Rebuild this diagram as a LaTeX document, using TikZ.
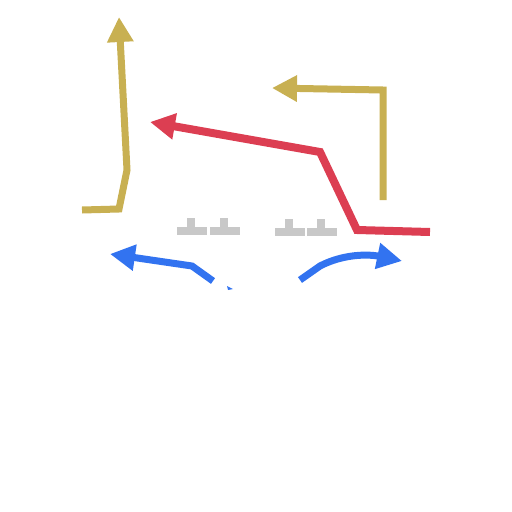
\documentclass[tikz,border=0pt]{standalone}
\usetikzlibrary{arrows.meta}

\definecolor{laneGold}{RGB}{200,176,82}
\definecolor{laneRed}{RGB}{220,62,82}
\definecolor{laneBlue}{RGB}{50,115,240}
\definecolor{carGray}{RGB}{200,200,200}

\begin{document}
\begin{tikzpicture}[x=1pt,y=-1pt]
  \tikzset{route/.style={line width=7pt,-{Triangle[length=25pt,width=25pt]}},
    car/.style={fill=carGray,draw=none}}
  \useasboundingbox (0,0) rectangle (512,512);
  % parked cars
  \foreach \cx/\cy in {177/227,210/227,275/228,307/228}{
    \fill[car] (\cx,\cy) rectangle ++(30,8);
    \fill[car] (\cx+10,\cy) rectangle ++(8,-9);
  }
  % gold routes
  \coordinate (gA) at (82,210);
  \coordinate (gB) at (119,209);
  \coordinate (gC) at (127,170);
  \coordinate (gD) at (119,17);
  \draw[route,laneGold] (gA) -- (gB) -- (gC) -- (gD);
  \coordinate (hA) at (383,200);
  \coordinate (hB) at (383,90);
  \coordinate (hC) at (272,88);
  \draw[route,laneGold,line join=miter] (hA) -- (hB) -- (hC);
  % red route
  \coordinate (rA) at (430,232);
  \coordinate (rB) at (357,230);
  \coordinate (rC) at (320,152);
  \coordinate (rD) at (150,122);
  \draw[route,laneRed,line width=8pt] (rA) -- (rB) -- (rC) -- (rD);
  % blue routes
  \coordinate (bA) at (213,281);
  \coordinate (bB) at (192,266);
  \coordinate (bC) at (110,254);
  \draw[route,laneBlue] (bA) -- (bB) -- (bC);
  \coordinate (cA) at (300,280);
  \coordinate (cB) at (320,266);
  \coordinate (cC) at (402,261);
  \draw[route,laneBlue] (cA) -- (cB) .. controls (343,254) and (368,254) .. (cC);
  \fill[laneBlue] (227,286) -- (233,289) -- (228,290) -- cycle;
\end{tikzpicture}
\end{document}
